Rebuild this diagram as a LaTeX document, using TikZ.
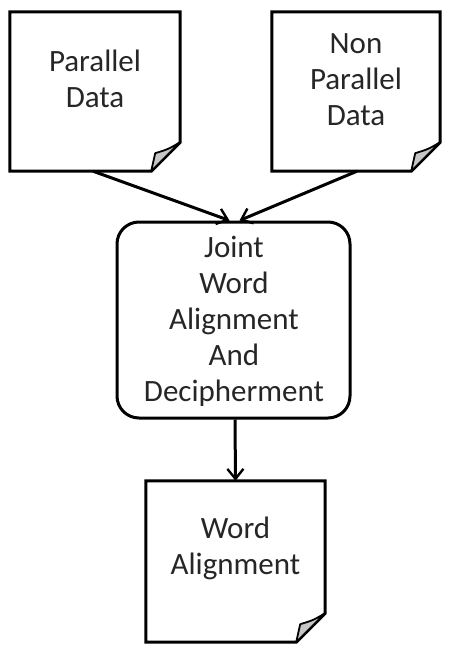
\documentclass[tikz,border=0pt]{standalone}
\usepackage{fontspec}
\setmainfont{Carlito}
\usetikzlibrary{arrows.meta,calc}
\tikzset{
  frame/.style={draw=none, minimum width=#1, inner sep=0pt},
  outline/.style={line width=3pt, line join=miter, draw=black},
  flap/.style={line width=1.8pt, fill=gray!45, draw=black, line join=round},
  txt/.style={align=center, font=\fontsize{31}{36}\selectfont, inner sep=0pt, text=black!85},
  conn/.style={line width=3pt, -{Straight Barb[length=10pt,width=16pt,line width=2.4pt]}},
}
\newcommand\docshape[1]{%
  \draw[outline] (#1.north west) -- (#1.north east) -- ($(#1.south east)+(0,-29)$)
     -- ($(#1.south east)+(-29,0)$) -- (#1.south west) -- cycle;
  \draw[flap] ($(#1.south east)+(-29,0)$) -- ($(#1.south east)+(-25,-18)$)
     .. controls ($(#1.south east)+(-12,-22)$) .. ($(#1.south east)+(0,-29)$) -- cycle;
}
\begin{document}
\begin{tikzpicture}[x=1pt,y=-1pt]
\useasboundingbox (0,0) rectangle (457,655);
% boxes
\node[frame=170, minimum height=159] (pd) at (95,91.5) {};
\node[frame=168, minimum height=159] (npd) at (356,91.5) {};
\node[draw, line width=3pt, rounded corners=22pt, minimum width=233, minimum height=196, inner sep=0pt] (jwad) at (233.5,320) {};
\node[frame=179, minimum height=161] (wa) at (235.5,561.5) {};
\docshape{pd}
\docshape{npd}
\docshape{wa}
% texts
\node[txt] (pdt) at (95,79) {Parallel\\Data};
\node[txt] (npdt) at (356,80) {Non\\Parallel\\Data};
\node[txt] (jwadt) at (234,321) {Joint\\Word\\Alignment\\And\\Decipherment};
\node[txt] (wat) at (235.5,548) {Word\\Alignment};
% connectors
\coordinate (inl) at ($(jwad.north)+(-4,0)$);
\coordinate (inr) at ($(jwad.north)+(6,0)$);
\draw[conn] ($(pd.south)+(-2,0)$) -- (inl);
\draw[conn] ($(npd.south)+(1,0)$) -- (inr);
\draw[conn] ($(jwad.south)+(1.5,0)$) -- (wa.north);
\end{tikzpicture}
\end{document}
